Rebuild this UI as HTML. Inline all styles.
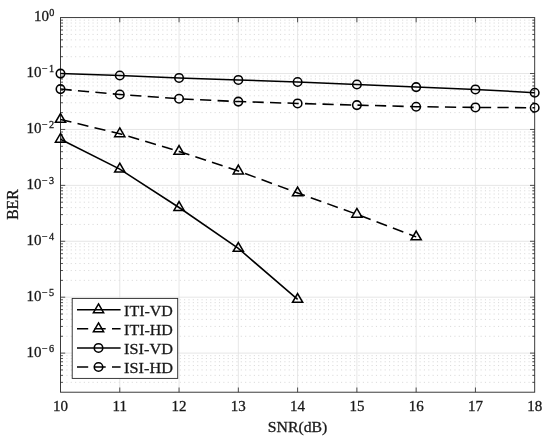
<!DOCTYPE html>
<html><head><meta charset="utf-8"><title>BER vs SNR</title>
<style>html,body{margin:0;padding:0;background:#fff}svg text{font-family:"Liberation Serif","DejaVu Serif",serif;fill:#181818;stroke:#181818;stroke-width:0.3px}</style>
</head><body>
<svg width="550" height="443" viewBox="0 0 550 443" style="display:block">
<rect x="0" y="0" width="550" height="443" fill="#fff"/>
<path d="M62.00 56.69H534.70M62.00 46.84H534.70M62.00 39.85H534.70M62.00 34.43H534.70M62.00 30.01H534.70M62.00 26.26H534.70M62.00 23.02H534.70M62.00 20.16H534.70M62.00 112.60H534.70M62.00 102.76H534.70M62.00 95.77H534.70M62.00 90.35H534.70M62.00 85.92H534.70M62.00 82.18H534.70M62.00 78.94H534.70M62.00 76.08H534.70M62.00 168.52H534.70M62.00 158.68H534.70M62.00 151.69H534.70M62.00 146.27H534.70M62.00 141.84H534.70M62.00 138.10H534.70M62.00 134.86H534.70M62.00 132.00H534.70M62.00 224.44H534.70M62.00 214.60H534.70M62.00 207.61H534.70M62.00 202.19H534.70M62.00 197.76H534.70M62.00 194.02H534.70M62.00 190.78H534.70M62.00 187.92H534.70M62.00 280.36H534.70M62.00 270.52H534.70M62.00 263.53H534.70M62.00 258.11H534.70M62.00 253.68H534.70M62.00 249.94H534.70M62.00 246.70H534.70M62.00 243.83H534.70M62.00 336.28H534.70M62.00 326.43H534.70M62.00 319.45H534.70M62.00 314.03H534.70M62.00 309.60H534.70M62.00 305.86H534.70M62.00 302.61H534.70M62.00 299.75H534.70M62.00 382.35H534.70M62.00 375.37H534.70M62.00 369.95H534.70M62.00 365.52H534.70M62.00 361.78H534.70M62.00 358.53H534.70M62.00 355.67H534.70" stroke="#bcbcbc" stroke-width="0.55" stroke-dasharray="1.1 3.26" fill="none"/>
<path d="M119.78 17.6V392.2M179.05 17.6V392.2M238.33 17.6V392.2M297.60 17.6V392.2M356.88 17.6V392.2M416.15 17.6V392.2M475.43 17.6V392.2M60.5 73.52H534.7M60.5 129.44H534.7M60.5 185.36H534.7M60.5 241.28H534.7M60.5 297.20H534.7M60.5 353.11H534.7" stroke="#e0e0e0" stroke-width="0.8" fill="none"/>
<path d="M119.78 392.2v-4.7M119.78 17.6v4.7M179.05 392.2v-4.7M179.05 17.6v4.7M238.33 392.2v-4.7M238.33 17.6v4.7M297.60 392.2v-4.7M297.60 17.6v4.7M356.88 392.2v-4.7M356.88 17.6v4.7M416.15 392.2v-4.7M416.15 17.6v4.7M475.43 392.2v-4.7M475.43 17.6v4.7M60.5 56.69h2.4M534.7 56.69h-2.4M60.5 46.84h2.4M534.7 46.84h-2.4M60.5 39.85h2.4M534.7 39.85h-2.4M60.5 34.43h2.4M534.7 34.43h-2.4M60.5 30.01h2.4M534.7 30.01h-2.4M60.5 26.26h2.4M534.7 26.26h-2.4M60.5 23.02h2.4M534.7 23.02h-2.4M60.5 20.16h2.4M534.7 20.16h-2.4M60.5 73.52h4.7M534.7 73.52h-4.7M60.5 112.60h2.4M534.7 112.60h-2.4M60.5 102.76h2.4M534.7 102.76h-2.4M60.5 95.77h2.4M534.7 95.77h-2.4M60.5 90.35h2.4M534.7 90.35h-2.4M60.5 85.92h2.4M534.7 85.92h-2.4M60.5 82.18h2.4M534.7 82.18h-2.4M60.5 78.94h2.4M534.7 78.94h-2.4M60.5 76.08h2.4M534.7 76.08h-2.4M60.5 129.44h4.7M534.7 129.44h-4.7M60.5 168.52h2.4M534.7 168.52h-2.4M60.5 158.68h2.4M534.7 158.68h-2.4M60.5 151.69h2.4M534.7 151.69h-2.4M60.5 146.27h2.4M534.7 146.27h-2.4M60.5 141.84h2.4M534.7 141.84h-2.4M60.5 138.10h2.4M534.7 138.10h-2.4M60.5 134.86h2.4M534.7 134.86h-2.4M60.5 132.00h2.4M534.7 132.00h-2.4M60.5 185.36h4.7M534.7 185.36h-4.7M60.5 224.44h2.4M534.7 224.44h-2.4M60.5 214.60h2.4M534.7 214.60h-2.4M60.5 207.61h2.4M534.7 207.61h-2.4M60.5 202.19h2.4M534.7 202.19h-2.4M60.5 197.76h2.4M534.7 197.76h-2.4M60.5 194.02h2.4M534.7 194.02h-2.4M60.5 190.78h2.4M534.7 190.78h-2.4M60.5 187.92h2.4M534.7 187.92h-2.4M60.5 241.28h4.7M534.7 241.28h-4.7M60.5 280.36h2.4M534.7 280.36h-2.4M60.5 270.52h2.4M534.7 270.52h-2.4M60.5 263.53h2.4M534.7 263.53h-2.4M60.5 258.11h2.4M534.7 258.11h-2.4M60.5 253.68h2.4M534.7 253.68h-2.4M60.5 249.94h2.4M534.7 249.94h-2.4M60.5 246.70h2.4M534.7 246.70h-2.4M60.5 243.83h2.4M534.7 243.83h-2.4M60.5 297.20h4.7M534.7 297.20h-4.7M60.5 336.28h2.4M534.7 336.28h-2.4M60.5 326.43h2.4M534.7 326.43h-2.4M60.5 319.45h2.4M534.7 319.45h-2.4M60.5 314.03h2.4M534.7 314.03h-2.4M60.5 309.60h2.4M534.7 309.60h-2.4M60.5 305.86h2.4M534.7 305.86h-2.4M60.5 302.61h2.4M534.7 302.61h-2.4M60.5 299.75h2.4M534.7 299.75h-2.4M60.5 353.11h4.7M534.7 353.11h-4.7M60.5 382.35h2.4M534.7 382.35h-2.4M60.5 375.37h2.4M534.7 375.37h-2.4M60.5 369.95h2.4M534.7 369.95h-2.4M60.5 365.52h2.4M534.7 365.52h-2.4M60.5 361.78h2.4M534.7 361.78h-2.4M60.5 358.53h2.4M534.7 358.53h-2.4M60.5 355.67h2.4M534.7 355.67h-2.4" stroke="#262626" stroke-width="0.8" fill="none"/>
<rect x="60.5" y="17.6" width="474.20" height="374.60" fill="none" stroke="#262626" stroke-width="0.9"/>
<polyline points="60.50,139.30 119.78,169.10 179.05,207.50 238.33,248.40 297.60,299.40" fill="none" stroke="#000" stroke-width="1.55"/>
<polyline points="60.50,119.40 119.78,133.80 179.05,151.40 238.33,171.00 297.60,192.90 356.88,214.30 416.15,236.90" fill="none" stroke="#000" stroke-width="1.55" stroke-dasharray="11.2 6.3"/>
<polyline points="60.50,73.60 119.78,75.50 179.05,77.90 238.33,79.90 297.60,82.00 356.88,84.50 416.15,87.10 475.43,89.40 534.70,92.70" fill="none" stroke="#000" stroke-width="1.55"/>
<polyline points="60.50,89.10 119.78,94.50 179.05,98.80 238.33,101.60 297.60,103.40 356.88,105.10 416.15,106.70 475.43,107.40 534.70,107.70" fill="none" stroke="#000" stroke-width="1.55" stroke-dasharray="11.2 6.3"/>
<path d="M60.50 133.43L65.58 142.23L55.42 142.23Z" fill="none" stroke="#000" stroke-width="1.55" stroke-linejoin="miter"/>
<path d="M119.78 163.23L124.86 172.03L114.69 172.03Z" fill="none" stroke="#000" stroke-width="1.55" stroke-linejoin="miter"/>
<path d="M179.05 201.63L184.13 210.43L173.97 210.43Z" fill="none" stroke="#000" stroke-width="1.55" stroke-linejoin="miter"/>
<path d="M238.33 242.53L243.41 251.33L233.24 251.33Z" fill="none" stroke="#000" stroke-width="1.55" stroke-linejoin="miter"/>
<path d="M297.60 293.53L302.68 302.33L292.52 302.33Z" fill="none" stroke="#000" stroke-width="1.55" stroke-linejoin="miter"/>
<path d="M60.50 113.53L65.58 122.33L55.42 122.33Z" fill="none" stroke="#000" stroke-width="1.55" stroke-linejoin="miter"/>
<path d="M119.78 127.93L124.86 136.73L114.69 136.73Z" fill="none" stroke="#000" stroke-width="1.55" stroke-linejoin="miter"/>
<path d="M179.05 145.53L184.13 154.33L173.97 154.33Z" fill="none" stroke="#000" stroke-width="1.55" stroke-linejoin="miter"/>
<path d="M238.33 165.13L243.41 173.93L233.24 173.93Z" fill="none" stroke="#000" stroke-width="1.55" stroke-linejoin="miter"/>
<path d="M297.60 187.03L302.68 195.83L292.52 195.83Z" fill="none" stroke="#000" stroke-width="1.55" stroke-linejoin="miter"/>
<path d="M356.88 208.43L361.96 217.23L351.79 217.23Z" fill="none" stroke="#000" stroke-width="1.55" stroke-linejoin="miter"/>
<path d="M416.15 231.03L421.23 239.83L411.07 239.83Z" fill="none" stroke="#000" stroke-width="1.55" stroke-linejoin="miter"/>
<circle cx="60.50" cy="73.60" r="4.25" fill="none" stroke="#000" stroke-width="1.55"/>
<circle cx="119.78" cy="75.50" r="4.25" fill="none" stroke="#000" stroke-width="1.55"/>
<circle cx="179.05" cy="77.90" r="4.25" fill="none" stroke="#000" stroke-width="1.55"/>
<circle cx="238.33" cy="79.90" r="4.25" fill="none" stroke="#000" stroke-width="1.55"/>
<circle cx="297.60" cy="82.00" r="4.25" fill="none" stroke="#000" stroke-width="1.55"/>
<circle cx="356.88" cy="84.50" r="4.25" fill="none" stroke="#000" stroke-width="1.55"/>
<circle cx="416.15" cy="87.10" r="4.25" fill="none" stroke="#000" stroke-width="1.55"/>
<circle cx="475.43" cy="89.40" r="4.25" fill="none" stroke="#000" stroke-width="1.55"/>
<circle cx="534.70" cy="92.70" r="4.25" fill="none" stroke="#000" stroke-width="1.55"/>
<circle cx="60.50" cy="89.10" r="4.25" fill="none" stroke="#000" stroke-width="1.55"/>
<circle cx="119.78" cy="94.50" r="4.25" fill="none" stroke="#000" stroke-width="1.55"/>
<circle cx="179.05" cy="98.80" r="4.25" fill="none" stroke="#000" stroke-width="1.55"/>
<circle cx="238.33" cy="101.60" r="4.25" fill="none" stroke="#000" stroke-width="1.55"/>
<circle cx="297.60" cy="103.40" r="4.25" fill="none" stroke="#000" stroke-width="1.55"/>
<circle cx="356.88" cy="105.10" r="4.25" fill="none" stroke="#000" stroke-width="1.55"/>
<circle cx="416.15" cy="106.70" r="4.25" fill="none" stroke="#000" stroke-width="1.55"/>
<circle cx="475.43" cy="107.40" r="4.25" fill="none" stroke="#000" stroke-width="1.55"/>
<circle cx="534.70" cy="107.70" r="4.25" fill="none" stroke="#000" stroke-width="1.55"/>
<rect x="72.2" y="298.4" width="105.50" height="80.00" fill="#fff" stroke="#262626" stroke-width="0.9"/>
<path d="M77 309.8H120.6" fill="none" stroke="#000" stroke-width="1.55"/>
<path d="M98.50 303.93L103.58 312.73L93.42 312.73Z" fill="none" stroke="#000" stroke-width="1.55" stroke-linejoin="miter"/>
<text x="124.1" y="315.70" font-size="15.4" textLength="48.8" lengthAdjust="spacingAndGlyphs">ITI-VD</text>
<path d="M77 328.8H120.6" fill="none" stroke="#000" stroke-width="1.55" stroke-dasharray="11.2 6.3"/>
<path d="M98.50 322.93L103.58 331.73L93.42 331.73Z" fill="none" stroke="#000" stroke-width="1.55" stroke-linejoin="miter"/>
<text x="124.1" y="334.70" font-size="15.4" textLength="48.8" lengthAdjust="spacingAndGlyphs">ITI-HD</text>
<path d="M77 347.9H120.6" fill="none" stroke="#000" stroke-width="1.55"/>
<circle cx="98.50" cy="347.90" r="4.25" fill="none" stroke="#000" stroke-width="1.55"/>
<text x="124.1" y="353.80" font-size="15.4" textLength="48.8" lengthAdjust="spacingAndGlyphs">ISI-VD</text>
<path d="M77 367.0H120.6" fill="none" stroke="#000" stroke-width="1.55" stroke-dasharray="11.2 6.3"/>
<circle cx="98.50" cy="367.00" r="4.25" fill="none" stroke="#000" stroke-width="1.55"/>
<text x="124.1" y="372.90" font-size="15.4" textLength="48.8" lengthAdjust="spacingAndGlyphs">ISI-HD</text>
<text x="60.50" y="410.6" font-size="15" text-anchor="middle">10</text>
<text x="119.78" y="410.6" font-size="15" text-anchor="middle">11</text>
<text x="179.05" y="410.6" font-size="15" text-anchor="middle">12</text>
<text x="238.33" y="410.6" font-size="15" text-anchor="middle">13</text>
<text x="297.60" y="410.6" font-size="15" text-anchor="middle">14</text>
<text x="356.88" y="410.6" font-size="15" text-anchor="middle">15</text>
<text x="416.15" y="410.6" font-size="15" text-anchor="middle">16</text>
<text x="475.43" y="410.6" font-size="15" text-anchor="middle">17</text>
<text x="534.70" y="410.6" font-size="15" text-anchor="middle">18</text>
<text x="49.0" y="21.40" font-size="15" text-anchor="end">10</text>
<text x="49.2" y="16.00" font-size="10.2">0</text>
<text x="41.5" y="77.32" font-size="15" text-anchor="end">10</text>
<text x="41.9" y="71.92" font-size="10.2" textLength="12.3" lengthAdjust="spacing">−1</text>
<text x="41.5" y="133.24" font-size="15" text-anchor="end">10</text>
<text x="41.9" y="127.84" font-size="10.2" textLength="12.3" lengthAdjust="spacing">−2</text>
<text x="41.5" y="189.16" font-size="15" text-anchor="end">10</text>
<text x="41.9" y="183.76" font-size="10.2" textLength="12.3" lengthAdjust="spacing">−3</text>
<text x="41.5" y="245.08" font-size="15" text-anchor="end">10</text>
<text x="41.9" y="239.68" font-size="10.2" textLength="12.3" lengthAdjust="spacing">−4</text>
<text x="41.5" y="301.00" font-size="15" text-anchor="end">10</text>
<text x="41.9" y="295.60" font-size="10.2" textLength="12.3" lengthAdjust="spacing">−5</text>
<text x="41.5" y="356.91" font-size="15" text-anchor="end">10</text>
<text x="41.9" y="351.51" font-size="10.2" textLength="12.3" lengthAdjust="spacing">−6</text>
<text x="297.6" y="431.9" font-size="15.4" text-anchor="middle" textLength="59.5" lengthAdjust="spacingAndGlyphs">SNR(dB)</text>
<text transform="translate(18.1 204.6) rotate(-90)" font-size="15.7" text-anchor="middle">BER</text>
</svg>
</body></html>
